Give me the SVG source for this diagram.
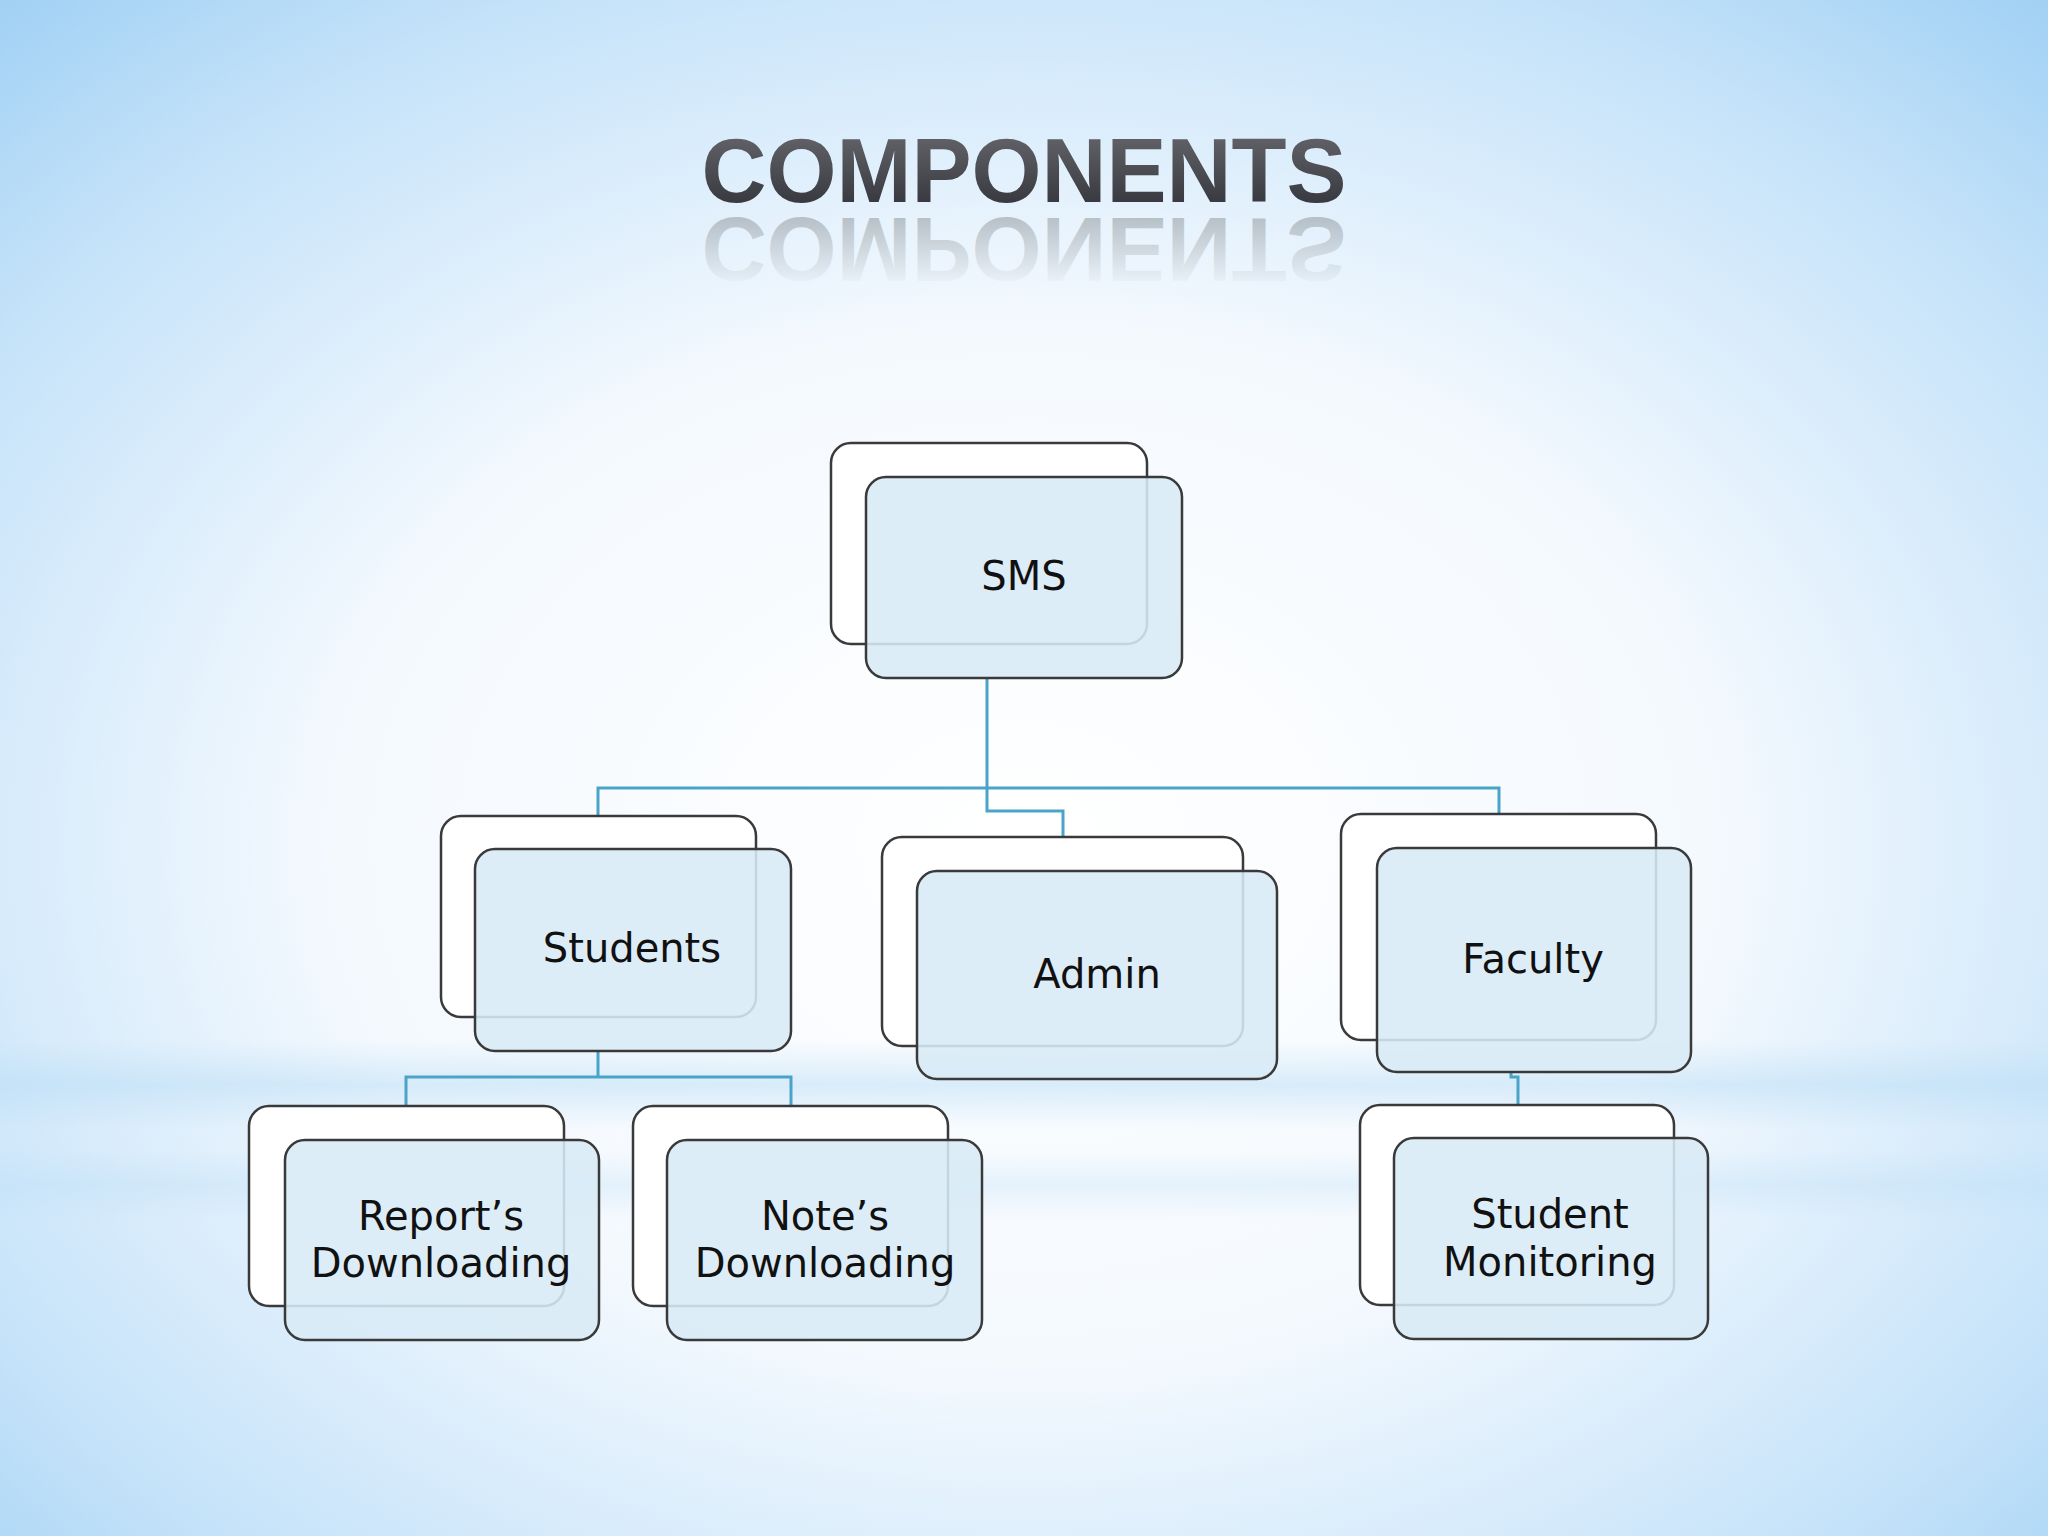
<svg xmlns="http://www.w3.org/2000/svg" width="2048" height="1536" viewBox="0 0 2048 1536">
<defs>
<radialGradient id="bg" cx="0.5" cy="0.55" r="0.75">
<stop offset="0" stop-color="#ffffff"/><stop offset="0.45" stop-color="#f4f9fe"/><stop offset="0.8" stop-color="#c4e2f9"/><stop offset="1" stop-color="#9fd0f4"/>
</radialGradient>
<linearGradient id="band" x1="0" y1="0" x2="0" y2="1">
<stop offset="0" stop-color="#b8dcf5" stop-opacity="0"/><stop offset="0.5" stop-color="#b8dcf5" stop-opacity="0.5"/><stop offset="1" stop-color="#b8dcf5" stop-opacity="0"/>
</linearGradient>
<linearGradient id="tg" x1="0" y1="0" x2="0" y2="1">
<stop offset="0" stop-color="#6a6a70"/><stop offset="1" stop-color="#2e2e36"/>
</linearGradient>
<linearGradient id="rg" x1="0" y1="0" x2="0" y2="1">
<stop offset="0.1" stop-color="#555" stop-opacity="0"/><stop offset="1" stop-color="#555" stop-opacity="0.4"/>
</linearGradient>
<style>
.b{fill:#fff;stroke:#3a3a3a;stroke-width:2.5}
.f{fill:#d8eaf6;fill-opacity:0.88;stroke:#3a3a3a;stroke-width:2.5}
.t{font-family:"DejaVu Sans",sans-serif;font-size:40px;fill:#111;text-anchor:middle}
.c{fill:none;stroke:#4aa3c8;stroke-width:3}
.h{font-family:"Liberation Sans",sans-serif;font-size:90px;font-weight:bold;text-anchor:middle}
</style>
</defs>
<rect width="2048" height="1536" fill="url(#bg)"/>
<rect x="0" y="1040" width="2048" height="90" fill="url(#band)"/>
<rect x="0" y="1150" width="2048" height="70" fill="url(#band)" opacity="0.6"/>
<text class="h" x="1024" y="202" fill="url(#tg)">COMPONENTS</text>
<text class="h" x="1024" y="202" fill="url(#rg)" transform="translate(0,420) scale(1,-1)">COMPONENTS</text>
<g id="connectors">
<path class="c" d="M987 678V788M598 816V788H1499V814M987 788V811H1063V837"/>
<path class="c" d="M598 1051V1077M406 1106V1077H791V1106"/>
<path class="c" d="M1511 1072V1077H1518V1105"/>
</g>
<g id="sms"><rect class="b" x="831" y="443" width="316" height="201" rx="20"/><rect class="f" x="866" y="477" width="316" height="201" rx="20"/><text class="t" x="1024" y="590">SMS</text></g>
<g id="students"><rect class="b" x="441" y="816" width="315" height="201" rx="20"/><rect class="f" x="475" y="849" width="316" height="202" rx="20"/><text class="t" x="632" y="962">Students</text></g>
<g id="admin"><rect class="b" x="882" y="837" width="361" height="209" rx="20"/><rect class="f" x="917" y="871" width="360" height="208" rx="20"/><text class="t" x="1097" y="988">Admin</text></g>
<g id="faculty"><rect class="b" x="1341" y="814" width="315" height="226" rx="20"/><rect class="f" x="1377" y="848" width="314" height="224" rx="20"/><text class="t" x="1533" y="973">Faculty</text></g>
<g id="reports"><rect class="b" x="249" y="1106" width="315" height="200" rx="20"/><rect class="f" x="285" y="1140" width="314" height="200" rx="20"/><text class="t" x="441" y="1230">Report’s</text><text class="t" x="441" y="1277">Downloading</text></g>
<g id="notes"><rect class="b" x="633" y="1106" width="315" height="200" rx="20"/><rect class="f" x="667" y="1140" width="315" height="200" rx="20"/><text class="t" x="825" y="1230">Note’s</text><text class="t" x="825" y="1277">Downloading</text></g>
<g id="monitoring"><rect class="b" x="1360" y="1105" width="314" height="200" rx="20"/><rect class="f" x="1394" y="1138" width="314" height="201" rx="20"/><text class="t" x="1550" y="1228">Student</text><text class="t" x="1550" y="1276">Monitoring</text></g>
</svg>
